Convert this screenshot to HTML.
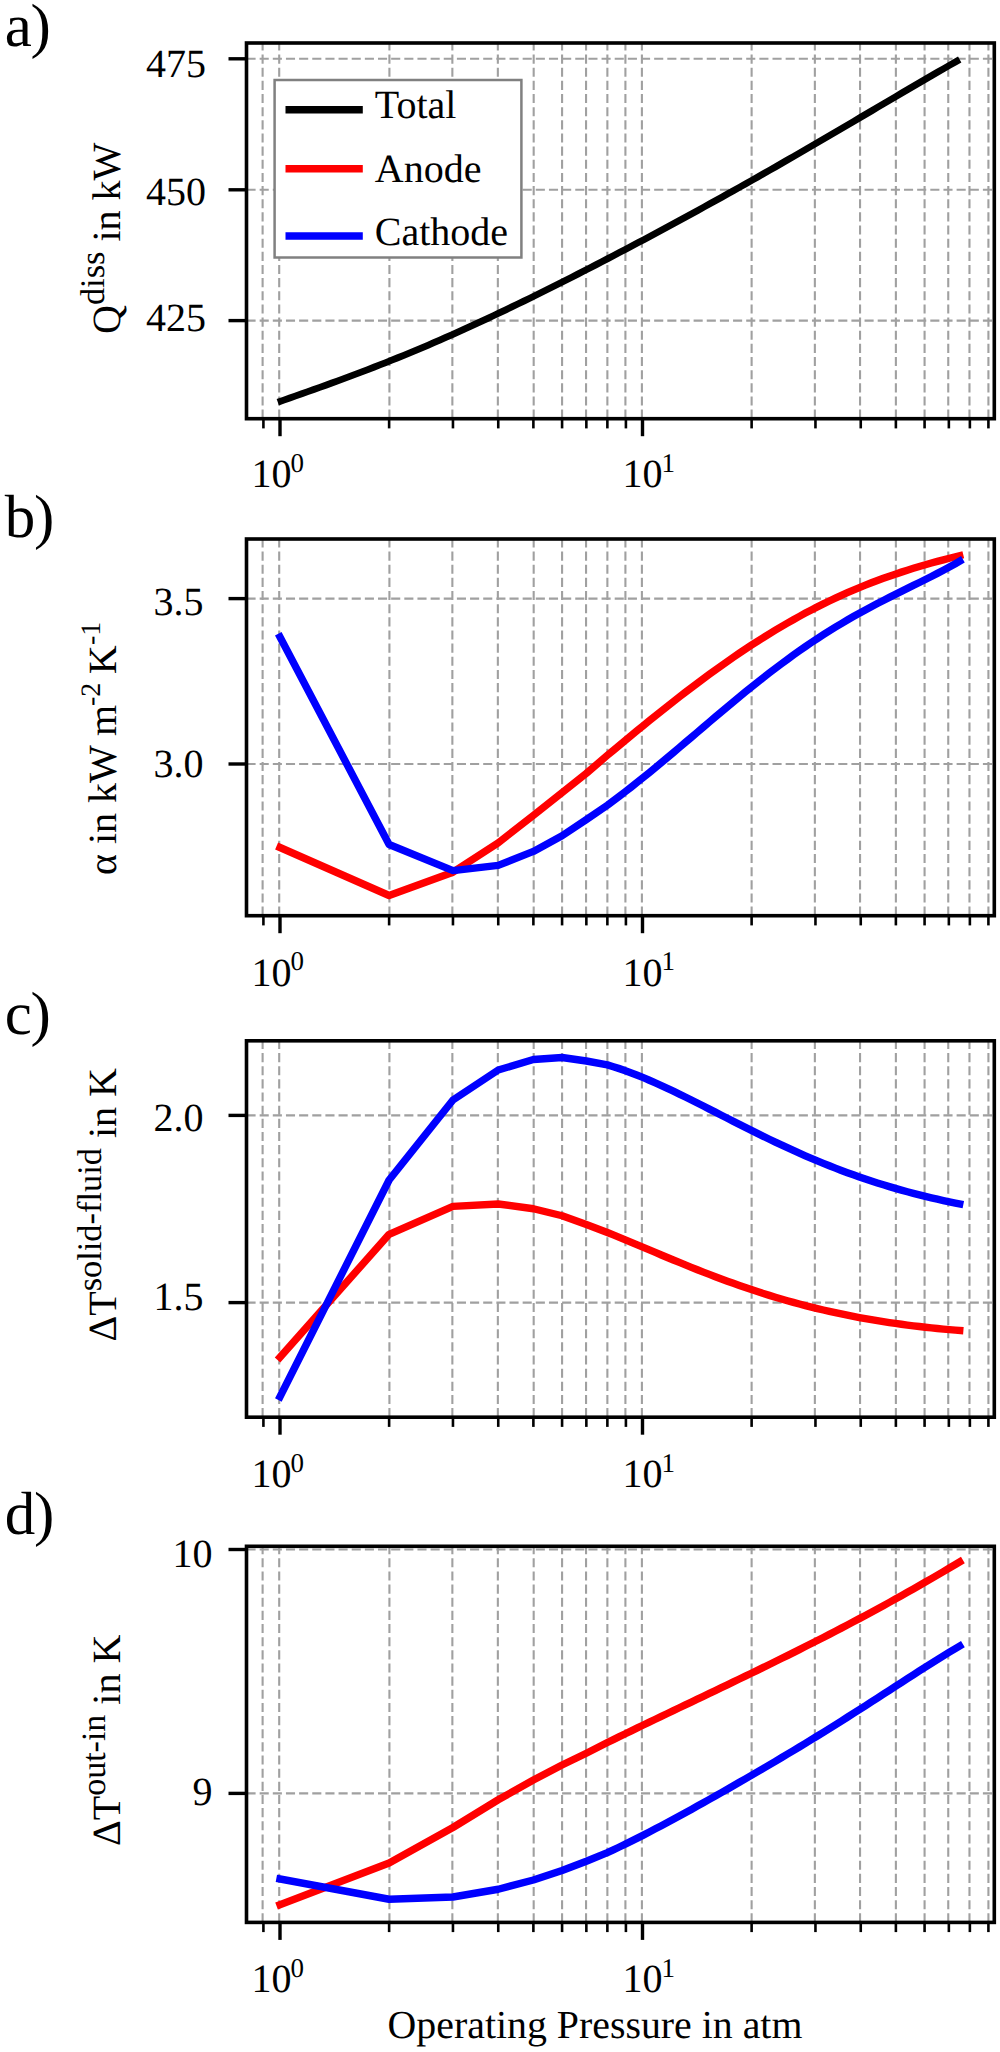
<!DOCTYPE html>
<html lang="en"><head><meta charset="utf-8"><title>Figure</title>
<style>html,body{margin:0;padding:0;background:#fff}svg{display:block}</style></head>
<body>
<svg width="1000" height="2052" viewBox="0 0 1000 2052" font-family="'Liberation Serif', 'Times New Roman', Times, serif" fill="#000" text-rendering="geometricPrecision">
<rect width="1000" height="2052" fill="#fff"/>
<g id="panel-a">
<g stroke="#a0a0a0" stroke-width="2.1" stroke-dasharray="9.1 4.05" fill="none">
<line x1="262.61" y1="418.7" x2="262.61" y2="43"/>
<line x1="389.42" y1="418.7" x2="389.42" y2="43"/>
<line x1="452.36" y1="418.7" x2="452.36" y2="43"/>
<line x1="497.85" y1="418.7" x2="497.85" y2="43"/>
<line x1="533.68" y1="418.7" x2="533.68" y2="43"/>
<line x1="562.08" y1="418.7" x2="562.08" y2="43"/>
<line x1="586.05" y1="418.7" x2="586.05" y2="43"/>
<line x1="607.37" y1="418.7" x2="607.37" y2="43"/>
<line x1="625.41" y1="418.7" x2="625.41" y2="43"/>
<line x1="751.62" y1="418.7" x2="751.62" y2="43"/>
<line x1="814.86" y1="418.7" x2="814.86" y2="43"/>
<line x1="860.05" y1="418.7" x2="860.05" y2="43"/>
<line x1="895.88" y1="418.7" x2="895.88" y2="43"/>
<line x1="924.58" y1="418.7" x2="924.58" y2="43"/>
<line x1="948.25" y1="418.7" x2="948.25" y2="43"/>
<line x1="969.47" y1="418.7" x2="969.47" y2="43"/>
<line x1="988.41" y1="418.7" x2="988.41" y2="43"/>
<line x1="279.2" y1="418.7" x2="279.2" y2="43"/>
<line x1="641.9" y1="418.7" x2="641.9" y2="43"/>
<line x1="246.5" y1="58.8" x2="994.3" y2="58.8"/>
<line x1="246.5" y1="189.8" x2="994.3" y2="189.8"/>
<line x1="246.5" y1="320.6" x2="994.3" y2="320.6"/>
</g>
<g fill="none" stroke-width="6.8" stroke-linejoin="round" stroke-linecap="butt">
<polyline stroke="#000000" points="277.8,402.29 283.8,400.15 289.8,398.02 295.8,395.9 301.8,393.78 307.8,391.65 313.8,389.51 319.8,387.37 325.8,385.21 331.8,383.04 337.8,380.85 343.8,378.65 349.8,376.42 355.8,374.18 361.8,371.91 367.8,369.61 373.8,367.29 379.8,364.95 385.8,362.58 391.8,360.19 397.8,357.77 403.8,355.32 409.8,352.84 415.8,350.34 421.8,347.81 427.8,345.26 433.8,342.68 439.8,340.07 445.8,337.44 451.8,334.78 457.8,332.1 463.8,329.4 469.8,326.67 475.8,323.91 481.8,321.14 487.8,318.34 493.8,315.52 499.8,312.68 505.8,309.82 511.8,306.94 517.8,304.04 523.8,301.13 529.8,298.19 535.8,295.24 541.8,292.27 547.8,289.29 553.8,286.28 559.8,283.27 565.8,280.24 571.8,277.19 577.8,274.13 583.8,271.06 589.8,267.97 595.8,264.88 601.8,261.76 607.8,258.64 613.8,255.51 619.8,252.36 625.8,249.2 631.8,246.03 637.8,242.85 643.8,239.66 649.8,236.45 655.8,233.24 661.8,230.01 667.8,226.78 673.8,223.53 679.8,220.27 685.8,217 691.8,213.72 697.8,210.43 703.8,207.13 709.8,203.82 715.8,200.5 721.8,197.17 727.8,193.82 733.8,190.47 739.8,187.1 745.8,183.73 751.8,180.34 757.8,176.94 763.8,173.54 769.8,170.12 775.8,166.69 781.8,163.25 787.8,159.8 793.8,156.35 799.8,152.88 805.8,149.4 811.8,145.92 817.8,142.43 823.8,138.93 829.8,135.42 835.8,131.9 841.8,128.38 847.8,124.86 853.8,121.33 859.8,117.8 865.8,114.26 871.8,110.72 877.8,107.18 883.8,103.64 889.8,100.11 895.8,96.57 901.8,93.04 907.8,89.52 913.8,86 919.8,82.5 925.8,79 931.8,75.52 937.8,72.05 943.8,68.59 949.8,65.16 955.8,61.75 959.7,59.54"/>
</g>
<rect x="274.6" y="80" width="246.8" height="177.5" fill="#fff" stroke="#808080" stroke-width="2.5"/>
<line x1="285.5" y1="109.8" x2="362.8" y2="109.8" stroke="#000000" stroke-width="7.4"/>
<line x1="285.5" y1="168.8" x2="362.8" y2="168.8" stroke="#ff0000" stroke-width="7.4"/>
<line x1="285.5" y1="236.0" x2="362.8" y2="236.0" stroke="#0000ff" stroke-width="7.4"/>
<text x="374.8" y="118.0" font-size="40">Total</text>
<text x="374.8" y="181.5" font-size="40">Anode</text>
<text x="374.8" y="245.0" font-size="40">Cathode</text>
<g stroke="#000" fill="none">
<line x1="263.41" y1="418.7" x2="263.41" y2="428.4" stroke-width="2.6"/>
<line x1="389.12" y1="418.7" x2="389.12" y2="428.4" stroke-width="2.6"/>
<line x1="452.96" y1="418.7" x2="452.96" y2="428.4" stroke-width="2.6"/>
<line x1="498.25" y1="418.7" x2="498.25" y2="428.4" stroke-width="2.6"/>
<line x1="533.38" y1="418.7" x2="533.38" y2="428.4" stroke-width="2.6"/>
<line x1="562.08" y1="418.7" x2="562.08" y2="428.4" stroke-width="2.6"/>
<line x1="586.35" y1="418.7" x2="586.35" y2="428.4" stroke-width="2.6"/>
<line x1="607.37" y1="418.7" x2="607.37" y2="428.4" stroke-width="2.6"/>
<line x1="625.91" y1="418.7" x2="625.91" y2="428.4" stroke-width="2.6"/>
<line x1="751.62" y1="418.7" x2="751.62" y2="428.4" stroke-width="2.6"/>
<line x1="815.46" y1="418.7" x2="815.46" y2="428.4" stroke-width="2.6"/>
<line x1="860.75" y1="418.7" x2="860.75" y2="428.4" stroke-width="2.6"/>
<line x1="895.88" y1="418.7" x2="895.88" y2="428.4" stroke-width="2.6"/>
<line x1="924.58" y1="418.7" x2="924.58" y2="428.4" stroke-width="2.6"/>
<line x1="948.85" y1="418.7" x2="948.85" y2="428.4" stroke-width="2.6"/>
<line x1="969.87" y1="418.7" x2="969.87" y2="428.4" stroke-width="2.6"/>
<line x1="988.41" y1="418.7" x2="988.41" y2="428.4" stroke-width="2.6"/>
<line x1="280" y1="418.7" x2="280" y2="436.2" stroke-width="3.4"/>
<line x1="642.5" y1="418.7" x2="642.5" y2="436.2" stroke-width="3.4"/>
<line x1="228.5" y1="58.8" x2="246.5" y2="58.8" stroke-width="3.4"/>
<line x1="228.5" y1="189.8" x2="246.5" y2="189.8" stroke-width="3.4"/>
<line x1="228.5" y1="320.6" x2="246.5" y2="320.6" stroke-width="3.4"/>
<rect x="246.5" y="43" width="747.8" height="375.7" stroke-width="3.6"/>
</g>
<text x="206" y="76.9" font-size="40" text-anchor="end">475</text>
<text x="206" y="204.5" font-size="40" text-anchor="end">450</text>
<text x="206" y="331.1" font-size="40" text-anchor="end">425</text>
<text x="251.4" y="487.4" font-size="40">10<tspan font-size="27" dx="-0.8" dy="-15.8">0</tspan></text>
<text x="622.4" y="487.4" font-size="40">10<tspan font-size="27" dx="-0.8" dy="-15.8">1</tspan></text>
</g>
<g id="panel-b">
<g stroke="#a0a0a0" stroke-width="2.1" stroke-dasharray="9.1 4.05" fill="none">
<line x1="262.61" y1="915.7" x2="262.61" y2="539"/>
<line x1="389.42" y1="915.7" x2="389.42" y2="539"/>
<line x1="452.36" y1="915.7" x2="452.36" y2="539"/>
<line x1="497.85" y1="915.7" x2="497.85" y2="539"/>
<line x1="533.68" y1="915.7" x2="533.68" y2="539"/>
<line x1="562.08" y1="915.7" x2="562.08" y2="539"/>
<line x1="586.05" y1="915.7" x2="586.05" y2="539"/>
<line x1="607.37" y1="915.7" x2="607.37" y2="539"/>
<line x1="625.41" y1="915.7" x2="625.41" y2="539"/>
<line x1="751.62" y1="915.7" x2="751.62" y2="539"/>
<line x1="814.86" y1="915.7" x2="814.86" y2="539"/>
<line x1="860.05" y1="915.7" x2="860.05" y2="539"/>
<line x1="895.88" y1="915.7" x2="895.88" y2="539"/>
<line x1="924.58" y1="915.7" x2="924.58" y2="539"/>
<line x1="948.25" y1="915.7" x2="948.25" y2="539"/>
<line x1="969.47" y1="915.7" x2="969.47" y2="539"/>
<line x1="988.41" y1="915.7" x2="988.41" y2="539"/>
<line x1="279.2" y1="915.7" x2="279.2" y2="539"/>
<line x1="641.9" y1="915.7" x2="641.9" y2="539"/>
<line x1="246.5" y1="598.6" x2="994.3" y2="598.6"/>
<line x1="246.5" y1="764" x2="994.3" y2="764"/>
</g>
<g fill="none" stroke-width="7.4" stroke-linejoin="round" stroke-linecap="square">
<polyline stroke="#ff0000" points="280,847.5 389.1,895.5 453,872.2 498.2,842.8 533.4,815.4 562.1,792.6 586.3,773.4 607.37,755.29 613.37,750.3 619.37,745.32 625.37,740.35 631.37,735.4 637.37,730.48 643.37,725.58 649.37,720.71 655.37,715.87 661.37,711.07 667.37,706.31 673.37,701.59 679.37,696.92 685.37,692.29 691.37,687.71 697.37,683.18 703.37,678.71 709.37,674.3 715.37,669.94 721.37,665.65 727.37,661.43 733.37,657.27 739.37,653.18 745.37,649.15 751.37,645.21 757.37,641.33 763.37,637.53 769.37,633.8 775.37,630.16 781.37,626.59 787.37,623.1 793.37,619.69 799.37,616.37 805.37,613.12 811.37,609.96 817.37,606.88 823.37,603.88 829.37,600.96 835.37,598.13 841.37,595.38 847.37,592.71 853.37,590.11 859.37,587.6 865.37,585.17 871.37,582.81 877.37,580.53 883.37,578.33 889.37,576.19 895.37,574.13 901.37,572.13 907.37,570.2 913.37,568.33 919.37,566.52 925.37,564.76 931.37,563.06 937.37,561.41 943.37,559.81 949.37,558.25 955.37,556.72 959.7,555.65"/>
<polyline stroke="#0000ff" points="280,637 389.1,844.5 453,870.6 498.2,865.4 533.4,851.4 562.1,835.8 586.3,819.6 607.37,805.18 613.37,800.75 619.37,796.24 625.37,791.64 631.37,786.97 637.37,782.22 643.37,777.41 649.37,772.54 655.37,767.62 661.37,762.65 667.37,757.63 673.37,752.59 679.37,747.52 685.37,742.43 691.37,737.32 697.37,732.22 703.37,727.11 709.37,722.01 715.37,716.93 721.37,711.87 727.37,706.84 733.37,701.84 739.37,696.89 745.37,691.98 751.37,687.13 757.37,682.33 763.37,677.6 769.37,672.94 775.37,668.35 781.37,663.84 787.37,659.41 793.37,655.07 799.37,650.81 805.37,646.64 811.37,642.56 817.37,638.58 823.37,634.68 829.37,630.88 835.37,627.17 841.37,623.55 847.37,620.01 853.37,616.56 859.37,613.2 865.37,609.9 871.37,606.68 877.37,603.52 883.37,600.42 889.37,597.36 895.37,594.35 901.37,591.37 907.37,588.4 913.37,585.44 919.37,582.47 925.37,579.48 931.37,576.46 937.37,573.38 943.37,570.23 949.37,566.99 955.37,563.65 959.7,561.15"/>
</g>
<g stroke="#000" fill="none">
<line x1="263.41" y1="915.7" x2="263.41" y2="925.4" stroke-width="2.6"/>
<line x1="389.12" y1="915.7" x2="389.12" y2="925.4" stroke-width="2.6"/>
<line x1="452.96" y1="915.7" x2="452.96" y2="925.4" stroke-width="2.6"/>
<line x1="498.25" y1="915.7" x2="498.25" y2="925.4" stroke-width="2.6"/>
<line x1="533.38" y1="915.7" x2="533.38" y2="925.4" stroke-width="2.6"/>
<line x1="562.08" y1="915.7" x2="562.08" y2="925.4" stroke-width="2.6"/>
<line x1="586.35" y1="915.7" x2="586.35" y2="925.4" stroke-width="2.6"/>
<line x1="607.37" y1="915.7" x2="607.37" y2="925.4" stroke-width="2.6"/>
<line x1="625.91" y1="915.7" x2="625.91" y2="925.4" stroke-width="2.6"/>
<line x1="751.62" y1="915.7" x2="751.62" y2="925.4" stroke-width="2.6"/>
<line x1="815.46" y1="915.7" x2="815.46" y2="925.4" stroke-width="2.6"/>
<line x1="860.75" y1="915.7" x2="860.75" y2="925.4" stroke-width="2.6"/>
<line x1="895.88" y1="915.7" x2="895.88" y2="925.4" stroke-width="2.6"/>
<line x1="924.58" y1="915.7" x2="924.58" y2="925.4" stroke-width="2.6"/>
<line x1="948.85" y1="915.7" x2="948.85" y2="925.4" stroke-width="2.6"/>
<line x1="969.87" y1="915.7" x2="969.87" y2="925.4" stroke-width="2.6"/>
<line x1="988.41" y1="915.7" x2="988.41" y2="925.4" stroke-width="2.6"/>
<line x1="280" y1="915.7" x2="280" y2="933.2" stroke-width="3.4"/>
<line x1="642.5" y1="915.7" x2="642.5" y2="933.2" stroke-width="3.4"/>
<line x1="228.5" y1="598.6" x2="246.5" y2="598.6" stroke-width="3.4"/>
<line x1="228.5" y1="764" x2="246.5" y2="764" stroke-width="3.4"/>
<rect x="246.5" y="539" width="747.8" height="376.7" stroke-width="3.6"/>
</g>
<text x="203.6" y="614.5" font-size="40" text-anchor="end">3.5</text>
<text x="203.6" y="777.1" font-size="40" text-anchor="end">3.0</text>
<text x="251.4" y="985.6" font-size="40">10<tspan font-size="27" dx="-0.8" dy="-15.8">0</tspan></text>
<text x="622.4" y="985.6" font-size="40">10<tspan font-size="27" dx="-0.8" dy="-15.8">1</tspan></text>
</g>
<g id="panel-c">
<g stroke="#a0a0a0" stroke-width="2.1" stroke-dasharray="9.1 4.05" fill="none">
<line x1="262.61" y1="1417.2" x2="262.61" y2="1040.8"/>
<line x1="389.42" y1="1417.2" x2="389.42" y2="1040.8"/>
<line x1="452.36" y1="1417.2" x2="452.36" y2="1040.8"/>
<line x1="497.85" y1="1417.2" x2="497.85" y2="1040.8"/>
<line x1="533.68" y1="1417.2" x2="533.68" y2="1040.8"/>
<line x1="562.08" y1="1417.2" x2="562.08" y2="1040.8"/>
<line x1="586.05" y1="1417.2" x2="586.05" y2="1040.8"/>
<line x1="607.37" y1="1417.2" x2="607.37" y2="1040.8"/>
<line x1="625.41" y1="1417.2" x2="625.41" y2="1040.8"/>
<line x1="751.62" y1="1417.2" x2="751.62" y2="1040.8"/>
<line x1="814.86" y1="1417.2" x2="814.86" y2="1040.8"/>
<line x1="860.05" y1="1417.2" x2="860.05" y2="1040.8"/>
<line x1="895.88" y1="1417.2" x2="895.88" y2="1040.8"/>
<line x1="924.58" y1="1417.2" x2="924.58" y2="1040.8"/>
<line x1="948.25" y1="1417.2" x2="948.25" y2="1040.8"/>
<line x1="969.47" y1="1417.2" x2="969.47" y2="1040.8"/>
<line x1="988.41" y1="1417.2" x2="988.41" y2="1040.8"/>
<line x1="279.2" y1="1417.2" x2="279.2" y2="1040.8"/>
<line x1="641.9" y1="1417.2" x2="641.9" y2="1040.8"/>
<line x1="246.5" y1="1115.4" x2="994.3" y2="1115.4"/>
<line x1="246.5" y1="1302.6" x2="994.3" y2="1302.6"/>
</g>
<g fill="none" stroke-width="7.4" stroke-linejoin="round" stroke-linecap="square">
<polyline stroke="#ff0000" points="280,1357.2 389.12,1234.3 452.96,1206.4 498.25,1204 533.38,1208.75 562.08,1215.75 586.35,1224.5 607.37,1232.47 613.37,1234.9 619.37,1237.36 625.37,1239.85 631.37,1242.36 637.37,1244.88 643.37,1247.41 649.37,1249.94 655.37,1252.46 661.37,1254.98 667.37,1257.49 673.37,1259.98 679.37,1262.45 685.37,1264.9 691.37,1267.33 697.37,1269.72 703.37,1272.08 709.37,1274.41 715.37,1276.7 721.37,1278.95 727.37,1281.16 733.37,1283.32 739.37,1285.45 745.37,1287.52 751.37,1289.55 757.37,1291.53 763.37,1293.46 769.37,1295.35 775.37,1297.18 781.37,1298.96 787.37,1300.69 793.37,1302.37 799.37,1304 805.37,1305.57 811.37,1307.1 817.37,1308.57 823.37,1310 829.37,1311.38 835.37,1312.7 841.37,1313.98 847.37,1315.21 853.37,1316.39 859.37,1317.53 865.37,1318.62 871.37,1319.67 877.37,1320.67 883.37,1321.63 889.37,1322.55 895.37,1323.42 901.37,1324.26 907.37,1325.06 913.37,1325.81 919.37,1326.54 925.37,1327.22 931.37,1327.87 937.37,1328.48 943.37,1329.06 949.37,1329.61 955.37,1330.12 959.71,1330.47"/>
<polyline stroke="#0000ff" points="280,1396.7 389.12,1180 452.96,1100 498.25,1070 533.38,1059.5 562.08,1057.5 586.35,1061 607.37,1064.91 613.37,1066.69 619.37,1068.63 625.37,1070.7 631.37,1072.91 637.37,1075.24 643.37,1077.68 649.37,1080.22 655.37,1082.85 661.37,1085.56 667.37,1088.34 673.37,1091.18 679.37,1094.08 685.37,1097.02 691.37,1100 697.37,1103.01 703.37,1106.04 709.37,1109.09 715.37,1112.15 721.37,1115.22 727.37,1118.28 733.37,1121.33 739.37,1124.37 745.37,1127.4 751.37,1130.4 757.37,1133.37 763.37,1136.32 769.37,1139.22 775.37,1142.1 781.37,1144.93 787.37,1147.71 793.37,1150.45 799.37,1153.14 805.37,1155.78 811.37,1158.37 817.37,1160.9 823.37,1163.37 829.37,1165.79 835.37,1168.14 841.37,1170.44 847.37,1172.68 853.37,1174.85 859.37,1176.97 865.37,1179.02 871.37,1181.02 877.37,1182.95 883.37,1184.83 889.37,1186.64 895.37,1188.4 901.37,1190.1 907.37,1191.74 913.37,1193.33 919.37,1194.87 925.37,1196.36 931.37,1197.8 937.37,1199.19 943.37,1200.54 949.37,1201.85 955.37,1203.11 959.71,1204"/>
</g>
<g stroke="#000" fill="none">
<line x1="263.41" y1="1417.2" x2="263.41" y2="1426.9" stroke-width="2.6"/>
<line x1="389.12" y1="1417.2" x2="389.12" y2="1426.9" stroke-width="2.6"/>
<line x1="452.96" y1="1417.2" x2="452.96" y2="1426.9" stroke-width="2.6"/>
<line x1="498.25" y1="1417.2" x2="498.25" y2="1426.9" stroke-width="2.6"/>
<line x1="533.38" y1="1417.2" x2="533.38" y2="1426.9" stroke-width="2.6"/>
<line x1="562.08" y1="1417.2" x2="562.08" y2="1426.9" stroke-width="2.6"/>
<line x1="586.35" y1="1417.2" x2="586.35" y2="1426.9" stroke-width="2.6"/>
<line x1="607.37" y1="1417.2" x2="607.37" y2="1426.9" stroke-width="2.6"/>
<line x1="625.91" y1="1417.2" x2="625.91" y2="1426.9" stroke-width="2.6"/>
<line x1="751.62" y1="1417.2" x2="751.62" y2="1426.9" stroke-width="2.6"/>
<line x1="815.46" y1="1417.2" x2="815.46" y2="1426.9" stroke-width="2.6"/>
<line x1="860.75" y1="1417.2" x2="860.75" y2="1426.9" stroke-width="2.6"/>
<line x1="895.88" y1="1417.2" x2="895.88" y2="1426.9" stroke-width="2.6"/>
<line x1="924.58" y1="1417.2" x2="924.58" y2="1426.9" stroke-width="2.6"/>
<line x1="948.85" y1="1417.2" x2="948.85" y2="1426.9" stroke-width="2.6"/>
<line x1="969.87" y1="1417.2" x2="969.87" y2="1426.9" stroke-width="2.6"/>
<line x1="988.41" y1="1417.2" x2="988.41" y2="1426.9" stroke-width="2.6"/>
<line x1="280" y1="1417.2" x2="280" y2="1434.7" stroke-width="3.4"/>
<line x1="642.5" y1="1417.2" x2="642.5" y2="1434.7" stroke-width="3.4"/>
<line x1="228.5" y1="1115.4" x2="246.5" y2="1115.4" stroke-width="3.4"/>
<line x1="228.5" y1="1302.6" x2="246.5" y2="1302.6" stroke-width="3.4"/>
<rect x="246.5" y="1040.8" width="747.8" height="376.4" stroke-width="3.6"/>
</g>
<text x="203.6" y="1131.1" font-size="40" text-anchor="end">2.0</text>
<text x="203.6" y="1309.9" font-size="40" text-anchor="end">1.5</text>
<text x="251.4" y="1487.4" font-size="40">10<tspan font-size="27" dx="-0.8" dy="-15.8">0</tspan></text>
<text x="622.4" y="1487.4" font-size="40">10<tspan font-size="27" dx="-0.8" dy="-15.8">1</tspan></text>
</g>
<g id="panel-d">
<g stroke="#a0a0a0" stroke-width="2.1" stroke-dasharray="9.1 4.05" fill="none">
<line x1="262.61" y1="1922.4" x2="262.61" y2="1546.3"/>
<line x1="389.42" y1="1922.4" x2="389.42" y2="1546.3"/>
<line x1="452.36" y1="1922.4" x2="452.36" y2="1546.3"/>
<line x1="497.85" y1="1922.4" x2="497.85" y2="1546.3"/>
<line x1="533.68" y1="1922.4" x2="533.68" y2="1546.3"/>
<line x1="562.08" y1="1922.4" x2="562.08" y2="1546.3"/>
<line x1="586.05" y1="1922.4" x2="586.05" y2="1546.3"/>
<line x1="607.37" y1="1922.4" x2="607.37" y2="1546.3"/>
<line x1="625.41" y1="1922.4" x2="625.41" y2="1546.3"/>
<line x1="751.62" y1="1922.4" x2="751.62" y2="1546.3"/>
<line x1="814.86" y1="1922.4" x2="814.86" y2="1546.3"/>
<line x1="860.05" y1="1922.4" x2="860.05" y2="1546.3"/>
<line x1="895.88" y1="1922.4" x2="895.88" y2="1546.3"/>
<line x1="924.58" y1="1922.4" x2="924.58" y2="1546.3"/>
<line x1="948.25" y1="1922.4" x2="948.25" y2="1546.3"/>
<line x1="969.47" y1="1922.4" x2="969.47" y2="1546.3"/>
<line x1="988.41" y1="1922.4" x2="988.41" y2="1546.3"/>
<line x1="279.2" y1="1922.4" x2="279.2" y2="1546.3"/>
<line x1="641.9" y1="1922.4" x2="641.9" y2="1546.3"/>
<line x1="246.5" y1="1549.5" x2="994.3" y2="1549.5"/>
<line x1="246.5" y1="1793.4" x2="994.3" y2="1793.4"/>
</g>
<g fill="none" stroke-width="7.4" stroke-linejoin="round" stroke-linecap="square">
<polyline stroke="#ff0000" points="280,1904.7 389.12,1863 452.96,1827.5 498.25,1799.75 533.38,1780 562.08,1765 586.35,1753.25 607.37,1742.51 613.37,1739.57 619.37,1736.64 625.37,1733.72 631.37,1730.81 637.37,1727.91 643.37,1725.02 649.37,1722.14 655.37,1719.25 661.37,1716.38 667.37,1713.51 673.37,1710.64 679.37,1707.77 685.37,1704.91 691.37,1702.04 697.37,1699.18 703.37,1696.31 709.37,1693.45 715.37,1690.57 721.37,1687.7 727.37,1684.82 733.37,1681.93 739.37,1679.04 745.37,1676.14 751.37,1673.24 757.37,1670.32 763.37,1667.39 769.37,1664.46 775.37,1661.51 781.37,1658.55 787.37,1655.58 793.37,1652.59 799.37,1649.59 805.37,1646.57 811.37,1643.54 817.37,1640.49 823.37,1637.42 829.37,1634.34 835.37,1631.24 841.37,1628.11 847.37,1624.97 853.37,1621.81 859.37,1618.62 865.37,1615.42 871.37,1612.19 877.37,1608.94 883.37,1605.67 889.37,1602.37 895.37,1599.05 901.37,1595.71 907.37,1592.34 913.37,1588.95 919.37,1585.53 925.37,1582.08 931.37,1578.61 937.37,1575.12 943.37,1571.6 949.37,1568.05 955.37,1564.48 959.71,1561.88"/>
<polyline stroke="#0000ff" points="280,1879 389.12,1899.25 452.96,1897 498.25,1889.25 533.38,1880 562.08,1870.5 586.35,1861.25 607.37,1852.62 613.37,1849.85 619.37,1847.01 625.37,1844.11 631.37,1841.15 637.37,1838.14 643.37,1835.08 649.37,1831.98 655.37,1828.84 661.37,1825.66 667.37,1822.46 673.37,1819.23 679.37,1815.97 685.37,1812.69 691.37,1809.39 697.37,1806.06 703.37,1802.72 709.37,1799.36 715.37,1795.99 721.37,1792.6 727.37,1789.19 733.37,1785.77 739.37,1782.33 745.37,1778.87 751.37,1775.4 757.37,1771.91 763.37,1768.4 769.37,1764.88 775.37,1761.34 781.37,1757.77 787.37,1754.19 793.37,1750.59 799.37,1746.97 805.37,1743.33 811.37,1739.67 817.37,1735.98 823.37,1732.28 829.37,1728.55 835.37,1724.8 841.37,1721.03 847.37,1717.25 853.37,1713.44 859.37,1709.62 865.37,1705.78 871.37,1701.93 877.37,1698.07 883.37,1694.2 889.37,1690.32 895.37,1686.44 901.37,1682.56 907.37,1678.69 913.37,1674.83 919.37,1670.98 925.37,1667.15 931.37,1663.36 937.37,1659.59 943.37,1655.87 949.37,1652.2 955.37,1648.59 959.71,1646.02"/>
</g>
<g stroke="#000" fill="none">
<line x1="263.41" y1="1922.4" x2="263.41" y2="1932.1" stroke-width="2.6"/>
<line x1="389.12" y1="1922.4" x2="389.12" y2="1932.1" stroke-width="2.6"/>
<line x1="452.96" y1="1922.4" x2="452.96" y2="1932.1" stroke-width="2.6"/>
<line x1="498.25" y1="1922.4" x2="498.25" y2="1932.1" stroke-width="2.6"/>
<line x1="533.38" y1="1922.4" x2="533.38" y2="1932.1" stroke-width="2.6"/>
<line x1="562.08" y1="1922.4" x2="562.08" y2="1932.1" stroke-width="2.6"/>
<line x1="586.35" y1="1922.4" x2="586.35" y2="1932.1" stroke-width="2.6"/>
<line x1="607.37" y1="1922.4" x2="607.37" y2="1932.1" stroke-width="2.6"/>
<line x1="625.91" y1="1922.4" x2="625.91" y2="1932.1" stroke-width="2.6"/>
<line x1="751.62" y1="1922.4" x2="751.62" y2="1932.1" stroke-width="2.6"/>
<line x1="815.46" y1="1922.4" x2="815.46" y2="1932.1" stroke-width="2.6"/>
<line x1="860.75" y1="1922.4" x2="860.75" y2="1932.1" stroke-width="2.6"/>
<line x1="895.88" y1="1922.4" x2="895.88" y2="1932.1" stroke-width="2.6"/>
<line x1="924.58" y1="1922.4" x2="924.58" y2="1932.1" stroke-width="2.6"/>
<line x1="948.85" y1="1922.4" x2="948.85" y2="1932.1" stroke-width="2.6"/>
<line x1="969.87" y1="1922.4" x2="969.87" y2="1932.1" stroke-width="2.6"/>
<line x1="988.41" y1="1922.4" x2="988.41" y2="1932.1" stroke-width="2.6"/>
<line x1="280" y1="1922.4" x2="280" y2="1939.9" stroke-width="3.4"/>
<line x1="642.5" y1="1922.4" x2="642.5" y2="1939.9" stroke-width="3.4"/>
<line x1="228.5" y1="1549.5" x2="246.5" y2="1549.5" stroke-width="3.4"/>
<line x1="228.5" y1="1793.4" x2="246.5" y2="1793.4" stroke-width="3.4"/>
<rect x="246.5" y="1546.3" width="747.8" height="376.1" stroke-width="3.6"/>
</g>
<text x="212.6" y="1566.7" font-size="40" text-anchor="end">10</text>
<text x="212.6" y="1805.1" font-size="40" text-anchor="end">9</text>
<text x="251.4" y="1992.4" font-size="40">10<tspan font-size="27" dx="-0.8" dy="-15.8">0</tspan></text>
<text x="622.4" y="1992.4" font-size="40">10<tspan font-size="27" dx="-0.8" dy="-15.8">1</tspan></text>
</g>
<text x="4.7" y="46.1" font-size="61">a<tspan dx="-1.3">)</tspan></text>
<text x="4.7" y="536.8" font-size="61">b<tspan dx="-1.3">)</tspan></text>
<text x="4.7" y="1034.0" font-size="61">c<tspan dx="-1.3">)</tspan></text>
<text x="4.7" y="1534.3" font-size="61">d<tspan dx="-1.3">)</tspan></text>
<text transform="translate(119.6 334) rotate(-90)" font-size="40">Q<tspan font-size="34.4" dy="-15.4">diss</tspan><tspan dy="15.4"> in kW</tspan></text>
<text transform="translate(116 875) rotate(-90)" font-size="40">α in kW m</text>
<text transform="translate(100.2 706.1) rotate(-90)" font-size="28">-2</text>
<text transform="translate(116 674.2) rotate(-90)" font-size="40">K</text>
<text transform="translate(100.2 645.1) rotate(-90)" font-size="28">-1</text>
<text transform="translate(116.1 1341.5) rotate(-90)" font-size="40">ΔT<tspan font-size="34.4" dy="-15.4">solid-fluid</tspan><tspan dy="15.4"> in K</tspan></text>
<text transform="translate(119.9 1846) rotate(-90)" font-size="40">ΔT<tspan font-size="34.0" dy="-15.4">out-in</tspan><tspan dy="15.4"> in K</tspan></text>
<text x="387.6" y="2038" font-size="39.85">Operating Pressure in atm</text>
</svg>
</body></html>
